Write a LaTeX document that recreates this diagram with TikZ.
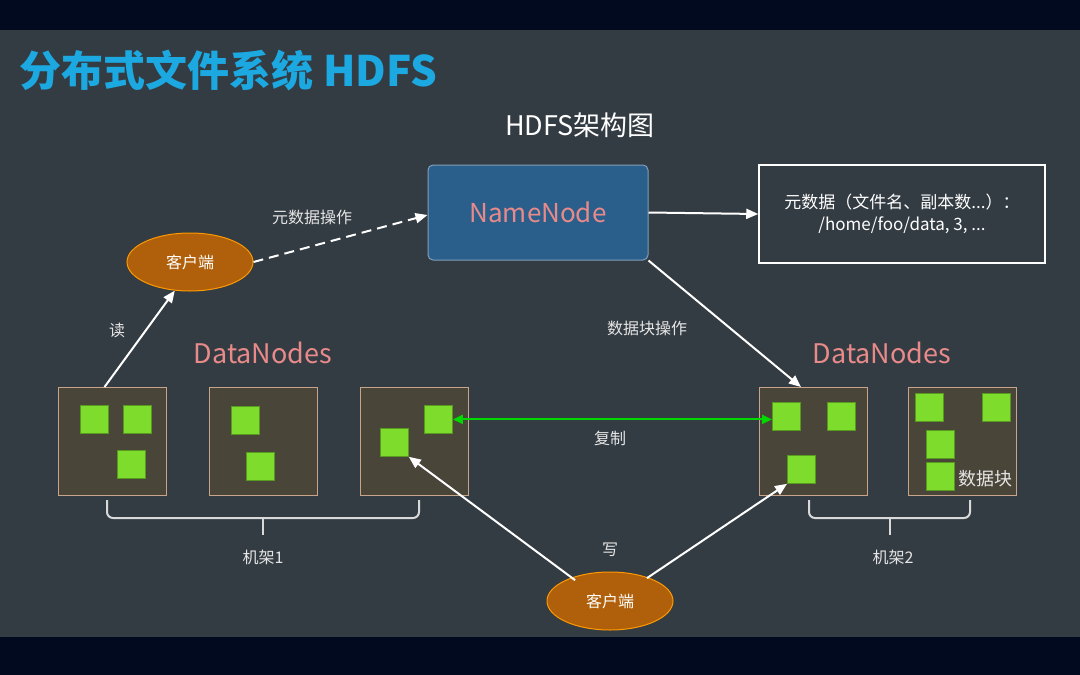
\documentclass[tikz,border=0pt]{standalone}
\usepackage{fontspec}
\setmainfont{Noto Sans CJK SC}
\usetikzlibrary{arrows.meta,positioning,shapes.geometric}
\definecolor{bgslate}{HTML}{343C43}
\definecolor{barnavy}{HTML}{020A20}
\definecolor{titleblue}{HTML}{1CA8E0}
\definecolor{nnblue}{HTML}{2A5F8C}
\definecolor{nnpink}{HTML}{E88A8A}
\definecolor{rackbrown}{HTML}{4A4539}
\definecolor{rackedge}{HTML}{C8A58A}
\definecolor{blockgreen}{HTML}{7EDC2C}
\definecolor{clientorange}{HTML}{B0600A}
\tikzset{
  rackbox/.style={draw=rackedge, fill=rackbrown, line width=1pt, minimum width=108pt, minimum height=108pt, anchor=north west},
  blocksq/.style={draw=blockgreen!70!black, fill=blockgreen, line width=0.8pt, minimum size=28pt, anchor=north west},
  client/.style={ellipse, draw=orange!80!yellow, fill=clientorange, line width=1pt, minimum width=126pt, minimum height=58pt, text=white, font=\fontsize{16}{16}\selectfont},
  lbl/.style={text=white!90!black, font=\fontsize{16}{16}\selectfont},
  dnlabel/.style={text=nnpink, font=\fontsize{27}{27}\selectfont},
  arr/.style={-{Triangle[length=12pt,width=10pt]}, white, line width=2pt},
  brace/.style={white!85!black, line width=2pt, rounded corners=6pt}
}
\begin{document}
\begin{tikzpicture}[x=1pt,y=-1pt]
\useasboundingbox (0,0) rectangle (1080,675);
% background
\fill[bgslate] (0,0) rectangle (1080,675);
\fill[barnavy] (0,0) rectangle (1080,30);
\fill[barnavy] (0,637) rectangle (1080,675);

% titles
\node[anchor=west, text=titleblue, font=\fontsize{42}{42}\selectfont\bfseries] (title) at (16,70) {分布式文件系统 HDFS};
\node[text=white, font=\fontsize{27}{27}\selectfont] (subtitle) at (580,125) {HDFS架构图};

% namenode and metadata
\node[draw=nnblue!60!white, fill=nnblue, rounded corners=5pt, line width=1pt, minimum width=220pt, minimum height=95pt, text=nnpink, font=\fontsize{26}{26}\selectfont] (nn) at (538,212.5) {NameNode};
\node[draw=white, line width=1.5pt, minimum width=286pt, minimum height=98pt, text=white, align=center, font=\fontsize{17}{22}\selectfont] (meta) at (902,214) {元数据（文件名、副本数...）：\\/home/foo/data, 3, ...};

% clients
\node[client] (clientA) at (190,262) {客户端};
\node[client] (clientB) at (610,601) {客户端};

% rack 1
\node[rackbox] (dn1) at (58,387) {};
\node[rackbox] (dn2) at (209,387) {};
\node[rackbox] (dn3) at (360,387) {};
\node[blocksq] (b11) at (80,405) {};
\node[blocksq] (b12) at (123,405) {};
\node[blocksq] (b13) at (117,450) {};
\node[blocksq] (b21) at (231,406) {};
\node[blocksq] (b22) at (246,452) {};
\node[blocksq] (b31) at (424,405) {};
\node[blocksq] (b32) at (380,428) {};
% rack 2
\node[rackbox] (dn4) at (759,387) {};
\node[rackbox] (dn5) at (908,387) {};
\node[blocksq] (b41) at (772,402) {};
\node[blocksq] (b42) at (827,402) {};
\node[blocksq] (b43) at (787,455) {};
\node[blocksq] (b51) at (915,393) {};
\node[blocksq] (b52) at (982,393) {};
\node[blocksq] (b53) at (926,430) {};
\node[blocksq] (b54) at (926,462) {};
\node[lbl, anchor=west, font=\fontsize{18}{18}\selectfont] (blklabel) at (955,479) {数据块};

\node[dnlabel] (dnlabelA) at (263,353) {DataNodes};
\node[dnlabel] (dnlabelB) at (882,353) {DataNodes};

% connectors
\draw[arr, dash pattern=on 10pt off 6pt] (clientA.east) -- (nn.west |- 0,215);
\node[lbl] (metaop) at (312,217) {元数据操作};
\coordinate (readfrom) at ([xshift=-8pt]dn1.north);
\draw[arr] (readfrom) -- (clientA.-118);
\node[lbl] (readlbl) at (117,330) {读};
\draw[arr] (nn.east) -- (meta.west);
\draw[arr] (nn.south east) -- ([xshift=42pt]dn4.north west);
\node[lbl] (blockop) at (647,328) {数据块操作};
\draw[{Triangle[length=10pt,width=9pt]}-{Triangle[length=10pt,width=9pt]}, green!85!black, line width=2pt] (b31.east) -- (b41.west |- b31.east);
\node[lbl] (replbl) at (610,438) {复制};
\draw[arr] ([xshift=10pt]clientB.north west) -- (b32.south east);
\draw[arr] ([xshift=-8pt,yshift=2pt]clientB.north east) -- (b43.south west);
\node[lbl] (writelbl) at (610,550) {写};

% racks
\draw[brace] (107,500) -- (107,518) -- (419,518) -- (419,500);
\draw[brace] (263,518) -- (263,535);
\node[lbl] (rack1) at (263,557) {机架1};
\draw[brace] (809,500) -- (809,518) -- (970,518) -- (970,500);
\draw[brace] (890,518) -- (890,535);
\node[lbl] (rack2) at (893,557) {机架2};
\end{tikzpicture}
\end{document}
